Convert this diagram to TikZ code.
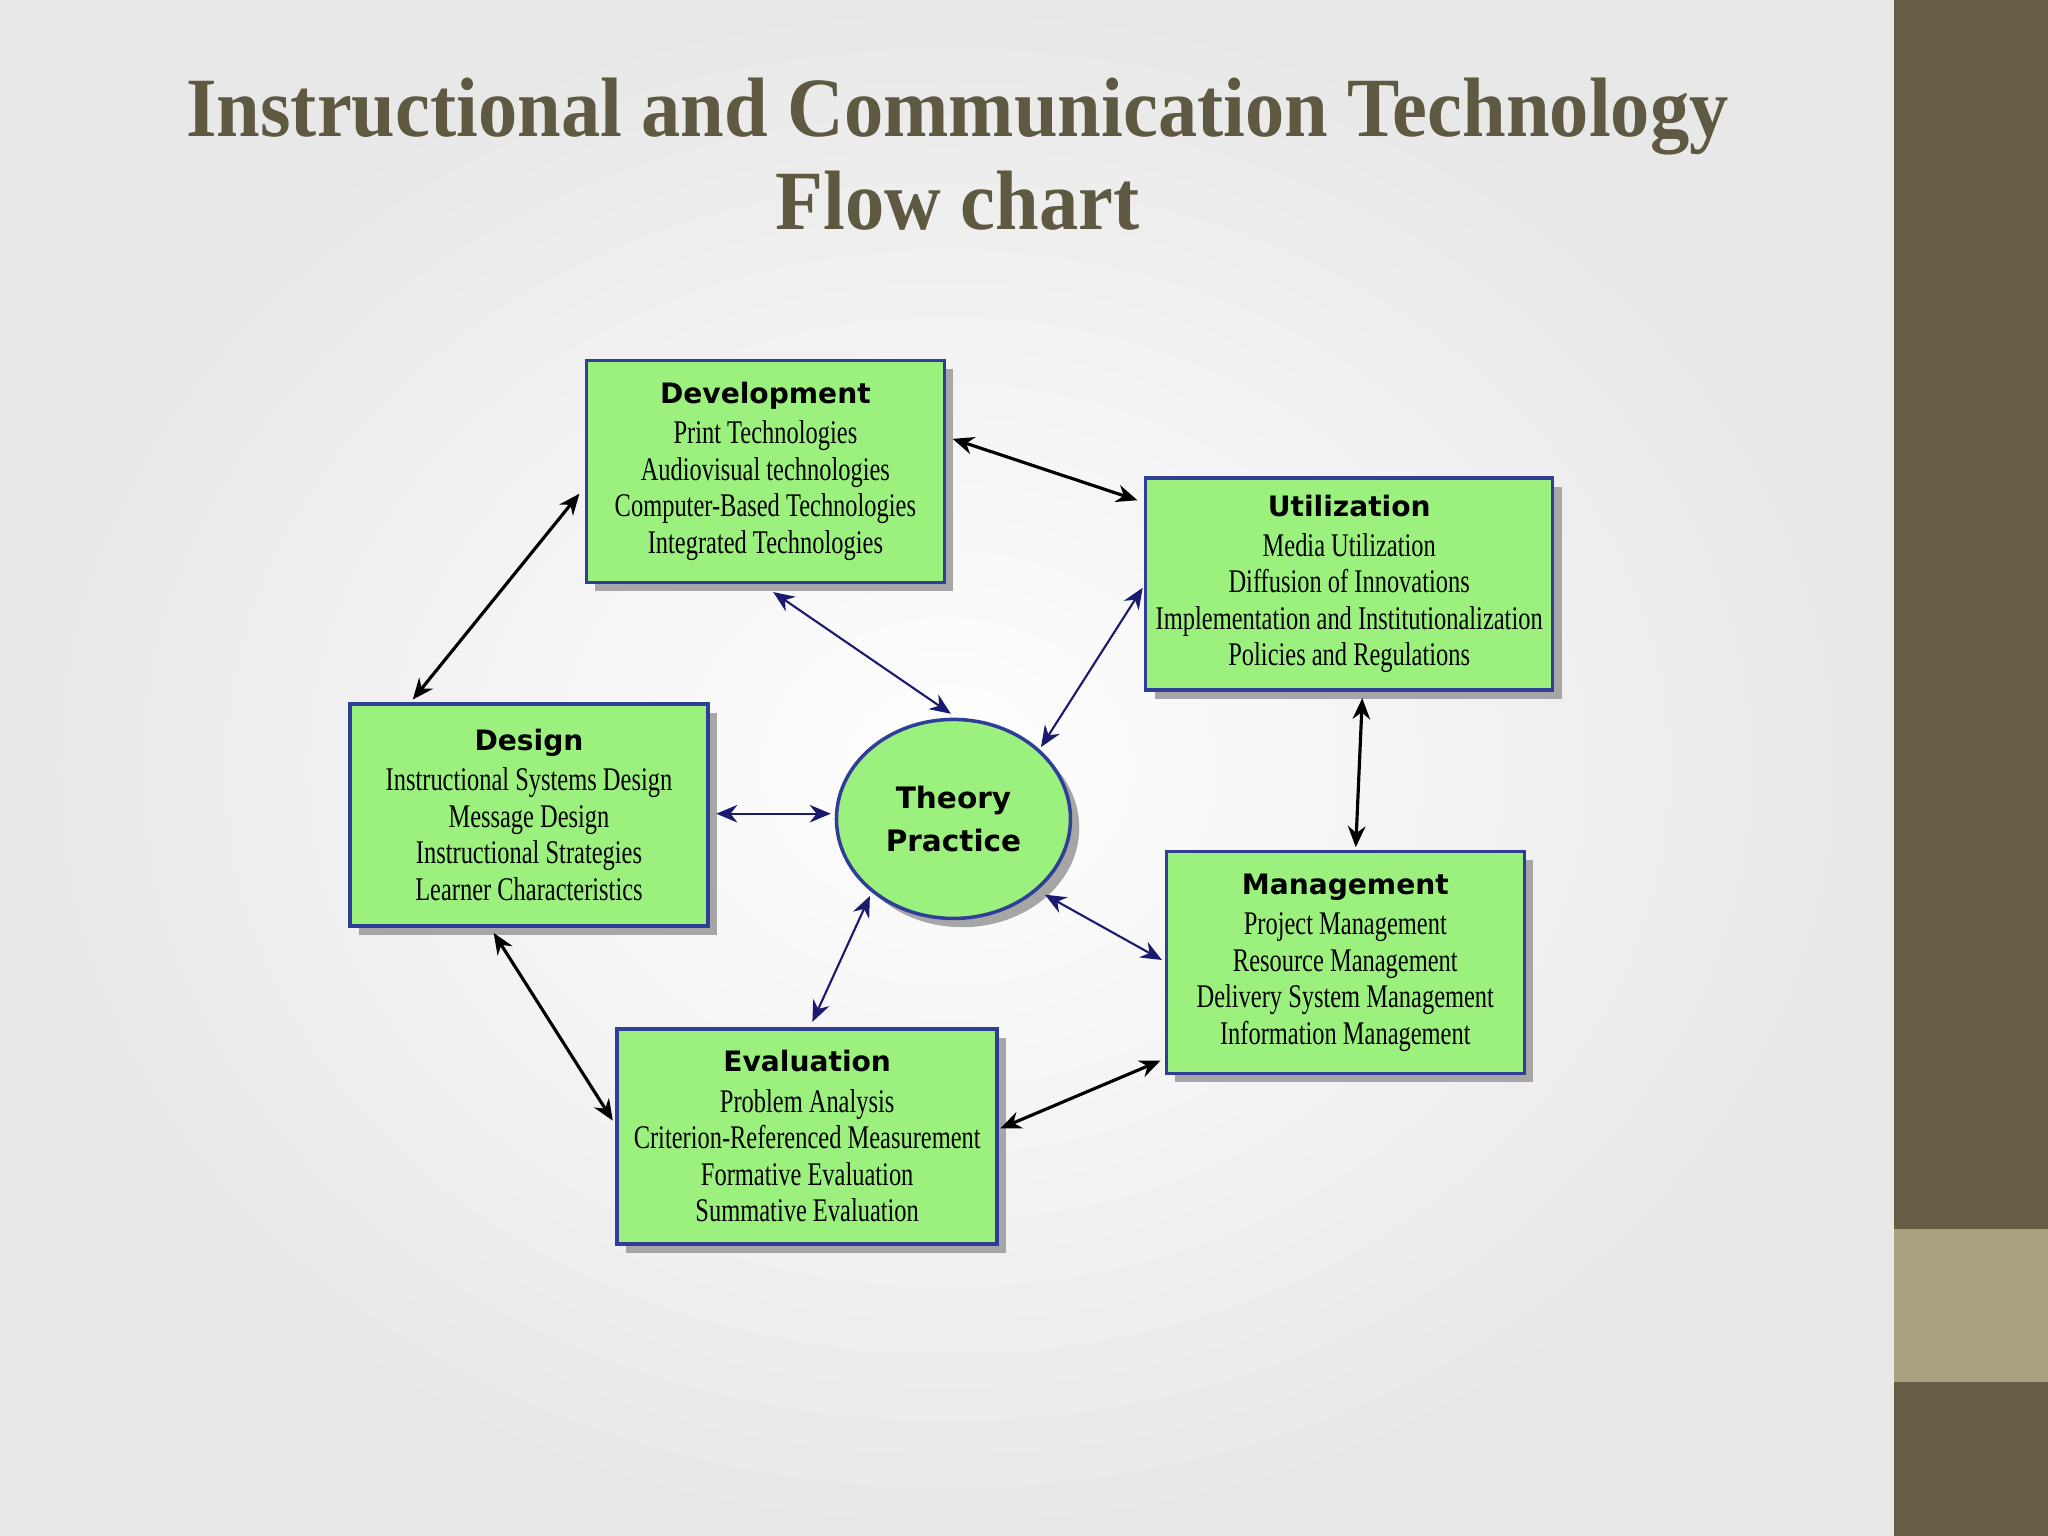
\documentclass[tikz,border=0pt]{standalone}
\usepackage{fontspec}
\setmainfont{Liberation Serif}
\newfontfamily\titlefont[FakeStretch=0.93]{Liberation Serif}
\newfontfamily\boxfont[FakeStretch=0.74]{Liberation Serif}
\newfontfamily\headfont{DejaVu Sans}
\usetikzlibrary{positioning,calc,shapes.geometric,arrows.meta}
\definecolor{olive}{HTML}{675C45}
\definecolor{lightolive}{HTML}{A8A27E}
\definecolor{titlecol}{HTML}{5F5942}
\definecolor{boxgreen}{HTML}{9CF07E}
\definecolor{boxblue}{HTML}{2F3E96}
\definecolor{navy}{HTML}{1A1A6E}
\begin{document}
\begin{tikzpicture}[x=0.013061cm,y=-0.013061cm,
    area/.style={rectangle, draw=boxblue, line width=1pt, fill=boxgreen,
      align=center, inner sep=2pt,
      font=\boxfont\fontsize{9.4}{10.4}\selectfont,
      preaction={fill=black!35, transform canvas={shift={(2.5pt,-2.5pt)}}}},
    core/.style={ellipse, draw=boxblue, line width=1pt, fill=boxgreen,
      align=center, minimum width=2.34cm, minimum height=1.99cm,
      font=\headfont\bfseries\fontsize{8.4}{12}\selectfont,
      preaction={fill=black!35, transform canvas={shift={(2.5pt,-2.5pt)}}}},
    link/.style={{Stealth[length=6pt,width=5pt]}-{Stealth[length=6pt,width=5pt]}, line width=0.9pt, black},
    hub/.style={link, navy, line width=0.6pt}]

  \newcommand{\head}[1]{{\headfont\bfseries\fontsize{8}{11}\selectfont #1}\\[1pt]}

  % background and side bar
  \shade[inner color=white, outer color=black!9] (0,0) rectangle (1450,1176);
  \fill[olive] (1450,0) rectangle (1568,1176);
  \fill[lightolive] (1450,941) rectangle (1568,1058);
  \useasboundingbox (0,0) rectangle (1568,1176);

  \node[text=titlecol, align=center, font=\titlefont\bfseries\fontsize{24}{26.5}\selectfont]
    (title) at (733,118) {Instructional and Communication Technology\\Flow chart};

  % areas
  \node[area, minimum width=3.58cm, minimum height=2.22cm] (dev) at (586,361)
    {\head{Development}Print Technologies\\Audiovisual technologies\\Computer-Based Technologies\\Integrated Technologies};
  \node[area, minimum width=4.07cm, minimum height=2.12cm] (util) at (1033,447)
    {\head{Utilization}Media Utilization\\Diffusion of Innovations\\Implementation and Institutionalization\\Policies and Regulations};
  \node[area, minimum width=3.58cm, minimum height=2.22cm] (design) at (405,624)
    {\head{Design}Instructional Systems Design\\Message Design\\Instructional Strategies\\Learner Characteristics};
  \node[area, minimum width=3.58cm, minimum height=2.22cm] (mgmt) at (1030,737)
    {\head{Management}Project Management\\Resource Management\\Delivery System Management\\Information Management};
  \node[area, minimum width=3.80cm, minimum height=2.15cm] (eval) at (618,870)
    {\head{Evaluation}Problem Analysis\\Criterion-Referenced Measurement\\Formative Evaluation\\Summative Evaluation};
  \node[core] (theory) at (730,627) {Theory\\Practice};

  % outer ring
  \draw[link] ($(dev.east)+(5,-25)$) -- ($(util.west)+(-5,-64)$);
  \draw[link] ($(dev.west)+(-4,17)$) -- ($(design.north)+(-89,-2)$);
  \draw[link] ($(util.south)+(10,5)$) -- ($(mgmt.north)+(8,-2)$);
  \draw[link] ($(design.south)+(-27,4)$) -- ($(eval.west)+(-2,-12)$);
  \draw[link] ($(mgmt.west)+(-3,75)$) -- ($(eval.east)+(1,-6)$);
  % spokes
  \draw[hub] ($(dev.south)+(6,6)$) -- ($(theory.north)+(-2,-3)$);
  \draw[hub] ($(util.west)+(-1,3)$) -- ($(theory)+(67,-55)$);
  \draw[hub] ($(design.east)+(5,-1)$) -- ($(theory.west)+(-3,-4)$);
  \draw[hub] ($(theory)+(-64,59)$) -- ($(eval.north)+(4,-4)$);
  \draw[hub] ($(theory)+(70,58)$) -- ($(mgmt.west)+(-2,-2)$);
\end{tikzpicture}
\end{document}
